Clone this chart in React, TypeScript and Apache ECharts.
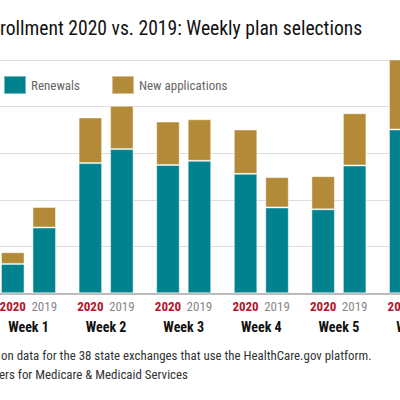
import React, { useEffect, useRef } from "react";
import * as echarts from "echarts";

const weeks = ["Week 1", "Week 2", "Week 3", "Week 4", "Week 5", "Week 6"];
const renewals2020 = [63, 279, 275, 256, 180, 351];
const newApps2020 = [25, 98, 93, 95, 71, 150];
const renewals2019: (number | null)[] = [141, 309, 284, 184, 274, null];
const newApps2019: (number | null)[] = [44, 93, 89, 65, 112, null];
const yTicks = { min: 0, max: 500, interval: 100 };

const titleText = "rollment 2020 vs. 2019: Weekly plan selections";
const noteText = "on data for the 38 state exchanges that use the HealthCare.gov platform.";
const sourceText = "ers for Medicare & Medicaid Services";

const FONT = "'Liberation Sans Narrow', 'Roboto Condensed', 'DejaVu Sans Condensed', Roboto, sans-serif";
const TEAL = "#00838f";
const GOLD = "#b38b38";
const SHIFT = 20; // chart div starts SHIFT px left of the page edge

export default function App() {
  const ref = useRef<HTMLDivElement>(null);
  useEffect(() => {
    if (!ref.current) return;
    const chart = echarts.init(ref.current, undefined, { renderer: "svg" });
    const barBase = {
      type: "bar" as const,
      barWidth: 23.5,
      barGap: "34%",
      clip: false,
      itemStyle: { borderColor: "rgba(255,255,255,0.45)", borderWidth: 1 },
    };
    chart.setOption({
      animation: false,
      backgroundColor: "#fff",
      textStyle: { fontFamily: FONT },
      title: {
        text: titleText,
        left: SHIFT - 5,
        top: 13,
        textStyle: { fontFamily: FONT, fontSize: 19.6, fontWeight: "normal", color: "#111" },
      },
      legend: {
        data: ["Renewals", "New applications"],
        left: SHIFT - 2,
        top: 70,
        itemWidth: 22,
        itemHeight: 18,
        itemGap: 31,
        icon: "rect",
        textStyle: { fontFamily: FONT, fontSize: 13, color: "#666" },
      },
      grid: { left: SHIFT - 10.3, right: 4.7, top: 60, bottom: 106.7 },
      xAxis: {
        type: "category",
        data: weeks,
        axisTick: { show: false },
        axisLine: { lineStyle: { color: "#aaa", width: 1.5 } },
        axisLabel: {
          interval: 0,
          margin: 5,
          formatter: (v: string) => `{a|2020}{b|2019}\n{w|${v}}`,
          rich: {
            a: { width: 31.5, align: "center", fontFamily: FONT, fontSize: 13, fontWeight: "bold", color: "#b5122a", lineHeight: 16 },
            b: { width: 31.5, align: "center", fontFamily: FONT, fontSize: 13, color: "#888", lineHeight: 16 },
            w: { fontFamily: FONT, fontSize: 14, fontWeight: "bold", color: "#111", lineHeight: 26 },
          },
        },
      },
      yAxis: {
        type: "value",
        min: yTicks.min,
        max: yTicks.max,
        interval: yTicks.interval,
        axisLabel: { show: false },
        axisLine: { show: false },
        axisTick: { show: false },
        splitLine: { lineStyle: { color: "#ddd", width: 1 } },
      },
      graphic: [
        { type: "text", left: SHIFT + 1, top: 349, style: { text: noteText, font: `12.9px ${FONT}`, fill: "#333" } },
        { type: "text", left: SHIFT - 1, top: 368, style: { text: sourceText, font: `12.9px ${FONT}`, fill: "#333" } },
      ],
      series: [
        { ...barBase, name: "Renewals", stack: "y2020", data: renewals2020, itemStyle: { ...barBase.itemStyle, color: TEAL } },
        { ...barBase, name: "New applications", stack: "y2020", data: newApps2020, itemStyle: { ...barBase.itemStyle, color: GOLD } },
        { ...barBase, name: "Renewals", stack: "y2019", data: renewals2019, itemStyle: { ...barBase.itemStyle, color: TEAL } },
        { ...barBase, name: "New applications", stack: "y2019", data: newApps2019, itemStyle: { ...barBase.itemStyle, color: GOLD } },
      ],
    });
    return () => chart.dispose();
  }, []);
  return (
    <div style={{ position: "fixed", left: 0, top: 0, width: 400, height: 400, overflow: "hidden", background: "#fff" }}>
      <div
        ref={ref}
        style={{ position: "absolute", left: -SHIFT, top: 0, width: 480, height: 400 }}
      />
    </div>
  );
}
